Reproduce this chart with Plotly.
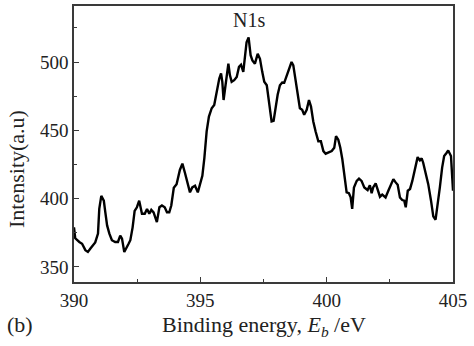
import plotly.graph_objects as go

binding_energy = [390.00, 390.05, 390.21, 390.32, 390.45, 390.55, 390.65, 390.74, 390.84, 390.95,
                  391.00, 391.08, 391.18, 391.24, 391.31, 391.40, 391.50, 391.63, 391.74, 391.83,
                  391.90, 391.99, 392.07, 392.16, 392.23, 392.32, 392.40, 392.49, 392.58, 392.69,
                  392.80, 392.89, 392.98, 393.06, 393.15, 393.28, 393.38, 393.48, 393.59, 393.68,
                  393.77, 393.85, 393.95, 394.06, 394.19, 394.29, 394.39, 394.50, 394.59, 394.68,
                  394.79, 394.90, 394.99, 395.08, 395.16, 395.25, 395.34, 395.45, 395.55, 395.65,
                  395.75, 395.82, 395.87, 395.92, 395.98, 396.04, 396.11, 396.17, 396.24, 396.34,
                  396.44, 396.53, 396.61, 396.70, 396.77, 396.83, 396.91, 396.99, 397.06, 397.16,
                  397.27, 397.36, 397.45, 397.53, 397.63, 397.69, 397.76, 397.82, 397.90, 397.98,
                  398.06, 398.15, 398.24, 398.32, 398.42, 398.51, 398.61, 398.68, 398.77, 398.85,
                  398.94, 399.03, 399.11, 399.21, 399.30, 399.38, 399.47, 399.56, 399.67, 399.77,
                  399.87, 399.96, 400.06, 400.20, 400.30, 400.37, 400.46, 400.54, 400.62, 400.70,
                  400.79, 400.88, 400.95, 401.01, 401.08, 401.19, 401.28, 401.38, 401.49, 401.62,
                  401.71, 401.78, 401.84, 401.94, 402.02, 402.11, 402.20, 402.28, 402.33, 402.44,
                  402.54, 402.64, 402.73, 402.81, 402.90, 402.99, 403.07, 403.13, 403.21, 403.30,
                  403.39, 403.49, 403.60, 403.69, 403.76, 403.82, 403.92, 404.02, 404.13, 404.22,
                  404.31, 404.39, 404.48, 404.57, 404.65, 404.75, 404.81, 404.92, 405.00]

intensity = [379.0, 371.0, 368.3, 367.0, 362.3, 361.0, 363.5, 366.0, 368.0, 374.4,
             392.5, 402.0, 398.5, 390.0, 380.4, 374.4, 369.6, 368.3, 368.3, 373.0,
             370.8, 361.0, 363.5, 367.0, 369.6, 379.0, 391.0, 393.7, 398.5, 388.9,
             388.9, 392.5, 388.9, 391.8, 390.0, 382.8, 393.7, 395.0, 393.7, 390.0,
             390.0, 395.0, 408.0, 410.6, 421.0, 425.6, 419.0, 410.6, 404.6, 408.2,
             409.4, 404.6, 410.6, 416.7, 429.9, 449.3, 460.1, 466.2, 468.6, 478.3,
             487.9, 491.6, 485.5, 472.2, 480.7, 492.8, 498.8, 490.4, 485.5, 486.7,
             489.1, 496.4, 498.0, 492.8, 507.2, 514.5, 518.0, 505.0, 501.2, 498.8,
             506.0, 502.4, 492.8, 485.5, 483.0, 473.4, 462.5, 456.5, 457.0, 468.6,
             476.0, 483.0, 485.0, 484.8, 490.4, 495.7, 500.0, 497.6, 485.5, 476.0,
             466.2, 465.0, 461.4, 465.0, 472.2, 467.4, 456.5, 449.3, 442.0, 442.0,
             434.8, 432.9, 433.6, 434.8, 437.2, 445.7, 443.2, 437.2, 428.8, 417.9,
             404.6, 404.0, 401.0, 392.5, 408.2, 413.0, 414.7, 413.0, 408.2, 406.3,
             409.9, 403.9, 408.2, 411.2, 406.3, 401.4, 402.9, 401.4, 400.9, 405.8,
             410.6, 414.3, 411.9, 410.1, 400.9, 399.0, 398.5, 393.7, 405.8, 407.1,
             413.0, 421.5, 430.4, 428.0, 429.5, 426.3, 417.9, 410.6, 398.5, 387.0,
             384.6, 395.0, 408.2, 422.7, 431.2, 433.6, 435.3, 431.2, 405.8]

x_ticks = [390, 395, 400, 405]
y_ticks = [350, 400, 450, 500]

FONT = "Times New Roman, Liberation Serif, serif"

fig = go.Figure()
fig.add_trace(go.Scatter(x=binding_energy, y=intensity, mode="lines",
                         line=dict(color="black", width=2.4), showlegend=False))

axis_common = dict(showline=True, linecolor="#3a3a3a", linewidth=1.5, mirror=True,
                   ticks="inside", ticklen=5, tickwidth=1.2, tickcolor="#3a3a3a",
                   showgrid=False, zeroline=False,
                   tickfont=dict(family=FONT, size=19, color="#222"))

fig.update_xaxes(range=[390, 405], tickvals=x_ticks, ticktext=[str(v) for v in x_ticks],
                 minor=dict(ticks="inside", ticklen=3, tickwidth=1, tickcolor="#3a3a3a", dtick=2.5, tick0=390),
                 **axis_common)
fig.update_yaxes(range=[339, 541], tickvals=y_ticks, ticktext=[str(v) for v in y_ticks],
                 minor=dict(ticks="inside", ticklen=3, tickwidth=1, tickcolor="#3a3a3a", dtick=25, tick0=350),
                 **axis_common)

fig.add_annotation(x=396.93, y=531, xref="x", yref="y", text="N1s", showarrow=False,
                   font=dict(family=FONT, size=20, color="#222"))
fig.add_annotation(x=0.5, y=-0.158, xref="paper", yref="paper",
                   text="Binding energy, <i>E</i><sub><i>b</i></sub> /eV", showarrow=False,
                   xanchor="center", yanchor="middle",
                   font=dict(family=FONT, size=22, color="#222"))
fig.add_annotation(x=-0.15, y=0.41, xref="paper", yref="paper", text="Intensity(a.u)",
                   textangle=-90, showarrow=False, xanchor="center", yanchor="middle",
                   font=dict(family=FONT, size=22, color="#222"))
fig.add_annotation(x=-0.143, y=-0.155, xref="paper", yref="paper", text="(b)",
                   showarrow=False, xanchor="center", yanchor="middle",
                   font=dict(family=FONT, size=22, color="#222"))

fig.update_layout(width=474, height=346, margin=dict(l=74, r=21, t=4, b=64),
                  plot_bgcolor="white", paper_bgcolor="white",
                  font=dict(family=FONT, size=19, color="#222"))

fig.write_html("out.html")
